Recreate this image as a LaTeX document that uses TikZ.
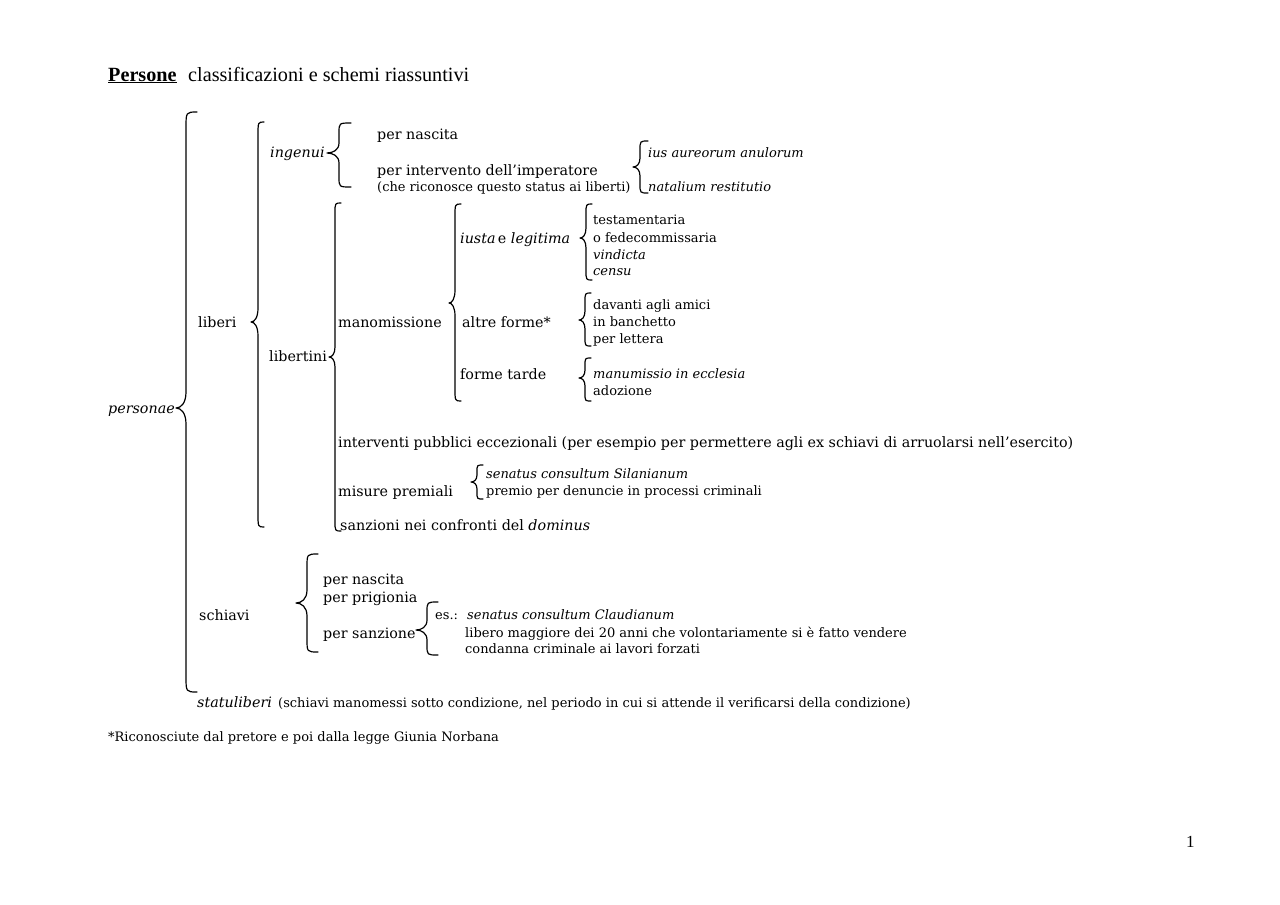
\documentclass[tikz,border=0pt]{standalone}
\usepackage{fontspec}
\setmainfont{DejaVu Serif}
\newfontfamily\tnr{Liberation Serif}
\newcommand\mybrace[7]{%
  \draw[brc] (#6,#2) .. controls (#1,#2) .. (#1,{#2+#7}) -- (#1,{#3-#7})
    .. controls (#1,{#3-0.3*#7}) and ({(#1+#5)/2},#3) .. (#5,#3)
    .. controls ({(#1+#5)/2},#3) and (#1,{#3+0.3*#7}) .. (#1,{#3+#7})
    -- (#1,{#4-#7}) .. controls (#1,#4) .. (#6,#4);}
\tikzset{
  t/.style={anchor=base west, inner sep=0pt, font=\fontsize{14.3}{16}\selectfont},
  s/.style={anchor=base west, inner sep=0pt, font=\fontsize{13}{15}\selectfont},
  brc/.style={line width=1.2pt, line cap=round, line join=round},
}
\begin{document}
\begin{tikzpicture}[x=1pt,y=-1pt]
\useasboundingbox[fill=white] (0,0) rectangle (1280,905);
% title
\node[t, font=\tnr\bfseries\fontsize{20.2}{23}\selectfont] (title1) at (108,81) {\underline{Persone}};
\node[t, font=\tnr\fontsize{20.2}{23}\selectfont] (title2) at (188,81) {classificazioni e schemi riassuntivi};
% braces
\mybrace{186}{112}{408}{692}{176}{197}{16}
\mybrace{258}{122}{322}{527}{251}{264}{14}
\mybrace{339}{123}{153}{187}{327}{351}{10}
\mybrace{640}{141}{167}{193}{633}{648}{9}
\mybrace{335}{203}{357}{531}{329}{341}{10}
\mybrace{455}{204}{303}{401}{449}{461}{13}
\mybrace{586}{204}{238}{280}{580}{592}{10}
\mybrace{585}{293}{320}{346}{579}{591}{9}
\mybrace{585}{358}{378}{401}{579}{591}{8}
\mybrace{477}{465}{482}{499}{471}{483}{7}
\mybrace{307}{554}{603}{652}{296}{318}{13}
\mybrace{427}{602}{630}{655}{416}{438}{10}
% level 0
\node[t] (personae) at (108,413) {\itshape personae};
% liberi
\node[t] (liberi) at (198,327) {liberi};
\node[t] (ingenui) at (270,157) {\itshape ingenui};
\node[t] (nasc1) at (377,139) {per nascita};
\node[t] (interv) at (377,175) {per intervento dell’imperatore};
\node[s] (interv2) at (377,191) {(che riconosce questo status ai liberti)};
\node[s] (ius) at (648,157) {\itshape ius aureorum anulorum};
\node[s] (natal) at (648,191) {\itshape natalium restitutio};
\node[t] (libertini) at (269,361) {libertini};
\node[t] (manom) at (338,327) {manomissione};
\node[t] (iusta) at (460,243) {\textit{iusta}\,e \textit{legitima}};
\node[s] (test) at (593,224) {testamentaria};
\node[s] (fede) at (593,242) {o fedecommissaria};
\node[s] (vind) at (593,259) {\itshape vindicta};
\node[s] (censu) at (593,275) {\itshape censu};
\node[t] (altre) at (462,327) {altre forme*};
\node[s] (dav) at (593,309) {davanti agli amici};
\node[s] (banch) at (593,326) {in banchetto};
\node[s] (lett) at (593,343) {per lettera};
\node[t] (tarde) at (460,379) {forme tarde};
\node[s] (ecc) at (593,378) {\itshape manumissio in ecclesia};
\node[s] (adoz) at (593,395) {adozione};
\node[t] (pubbl) at (338,447) {interventi pubblici eccezionali (per esempio per permettere agli ex schiavi di arruolarsi nell’esercito)};
\node[t] (premiali) at (338,496) {misure premiali};
\node[s] (silan) at (486,478) {\itshape senatus consultum Silanianum};
\node[s] (premio) at (486,495) {premio per denuncie in processi criminali};
\node[t] (sanz) at (340,530) {sanzioni nei confronti del \textit{dominus}};
% schiavi
\node[t] (schiavi) at (199,620) {schiavi};
\node[t] (nasc2) at (323,584) {per nascita};
\node[t] (prig) at (323,602) {per prigionia};
\node[t] (sanzione) at (323,638) {per sanzione};
\node[s] (es) at (435,619) {es.:};
\node[s] (claud) at (467,619) {\itshape senatus consultum Claudianum};
\node[s] (libero) at (465,637) {libero maggiore dei 20 anni che volontariamente si è fatto vendere};
\node[s] (condanna) at (465,653) {condanna criminale ai lavori forzati};
% statuliberi
\node[t] (statu) at (197,707) {\itshape statuliberi};
\node[s] (statu2) at (278,707) {(schiavi manomessi sotto condizione, nel periodo in cui si attende il verificarsi della condizione)};
\node[s] (foot) at (108,741) {*Riconosciute dal pretore e poi dalla legge Giunia Norbana};
\node[t, font=\tnr\fontsize{17}{20}\selectfont] (pagenum) at (1186,847) {1};
\end{tikzpicture}
\end{document}
